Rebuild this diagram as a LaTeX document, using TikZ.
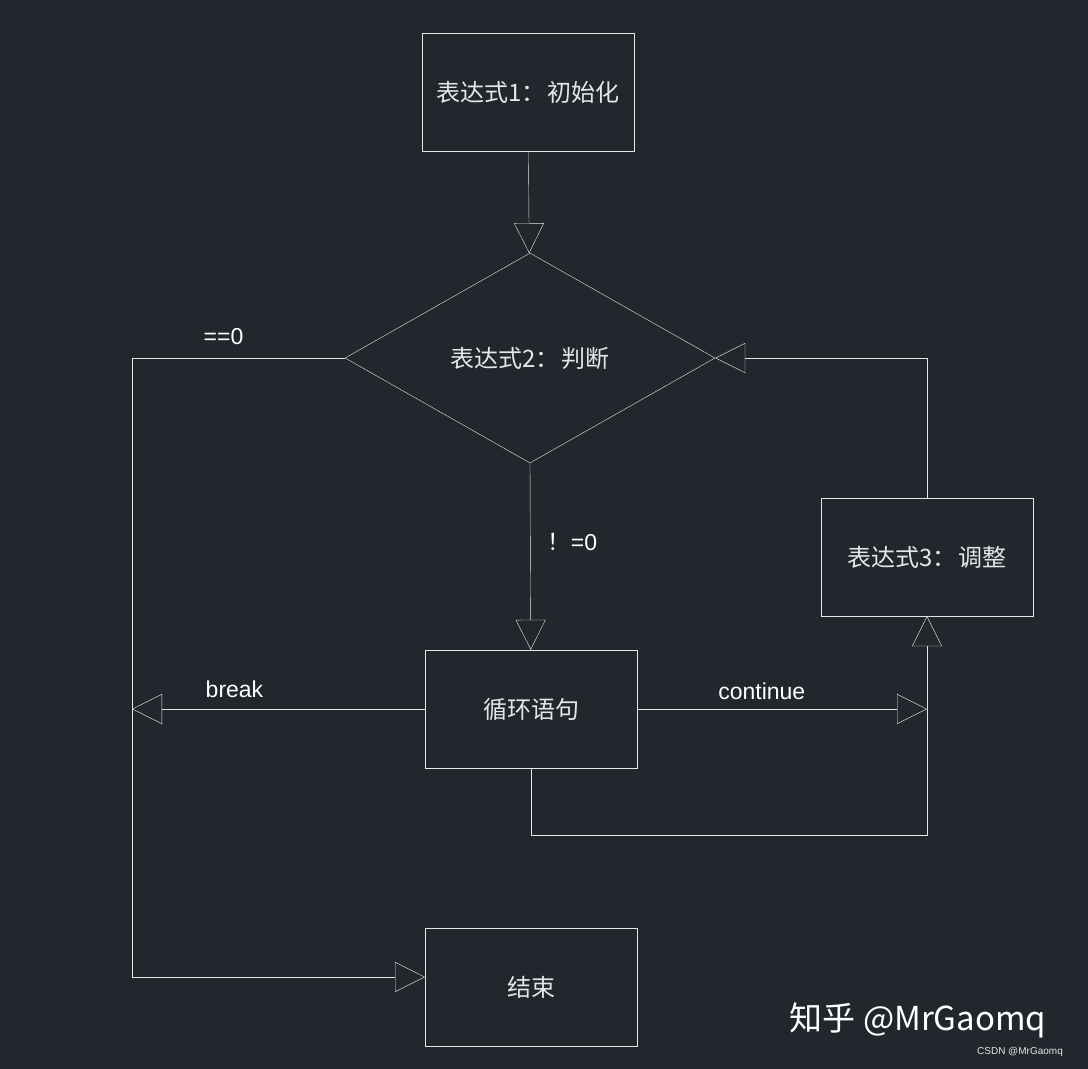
\documentclass[tikz,border=0pt]{standalone}
\usepackage{fontspec}
\setmainfont{Liberation Sans}
\newfontfamily\cjk{Noto Sans CJK SC}
\usetikzlibrary{shapes.geometric, positioning, arrows.meta}
\definecolor{bgdark}{HTML}{22272E}
\definecolor{linegray}{HTML}{E6E6E6}

\begin{document}
\begin{tikzpicture}[x=1pt, y=-1pt,
    process/.style={rectangle, minimum width=212pt, minimum height=118pt, text centered, draw=linegray, font=\cjk\fontsize{24}{28}\selectfont, text=linegray},
    decision/.style={diamond, minimum width=370pt, minimum height=210pt, inner sep=0pt, text centered, draw=linegray, font=\cjk\fontsize{24}{28}\selectfont, text=linegray},
    arrow/.style={linegray, -{Triangle[open, length=30pt, width=30pt, fill=bgdark]}},
    lbl/.style={text=white, font=\fontsize{23}{28}\selectfont},
]
\fill[bgdark] (0,0) rectangle (1088,1069);
\useasboundingbox (0,0) rectangle (1088,1069);

% Nodes
\node[process] (init) at (528,92) {表达式1：\hspace{2pt}初始化};
\node[decision] (judge) at (530,358) {表达式2：\hspace{2pt}判断};
\node[process] (adjust) at (927,557) {表达式3：\hspace{2pt}调整};
\node[process] (body) at (531,709) {循环语句};
\node[process] (finish) at (531,987) {结束};
\coordinate (leftRail) at (132,358);
\coordinate (breakEnd) at (132,709);
\coordinate (finishIn) at (425,977);

% Arrows
\draw[arrow] (init) -- (judge);
\draw[arrow] (judge.south) -- node[lbl, pos=0.42, right=14pt] {{\cjk ！}=0} (body);
\draw[arrow] (judge.west) -- node[lbl, above=10pt, pos=0.57] {==0} (leftRail) |- (finishIn);
\draw[arrow] (body) -- node[lbl, above=8pt, pos=0.65] {break} (breakEnd);
\draw[arrow] (body) -- node[lbl, above=6pt, pos=0.43] {continue} (body -| adjust);
\draw[arrow] (body.south) -- ++(0,67) -| (adjust);
\draw[arrow] (adjust) |- (judge.east);

% Watermark
\node[text=white, font=\cjk\fontsize{33}{36}\selectfont] (mark) at (918,1020) {知乎 @MrGaomq};
\node[text=linegray, font=\fontsize{10}{12}\selectfont] (csdn) at (1020,1052) {CSDN @MrGaomq};
\end{tikzpicture}
\end{document}
